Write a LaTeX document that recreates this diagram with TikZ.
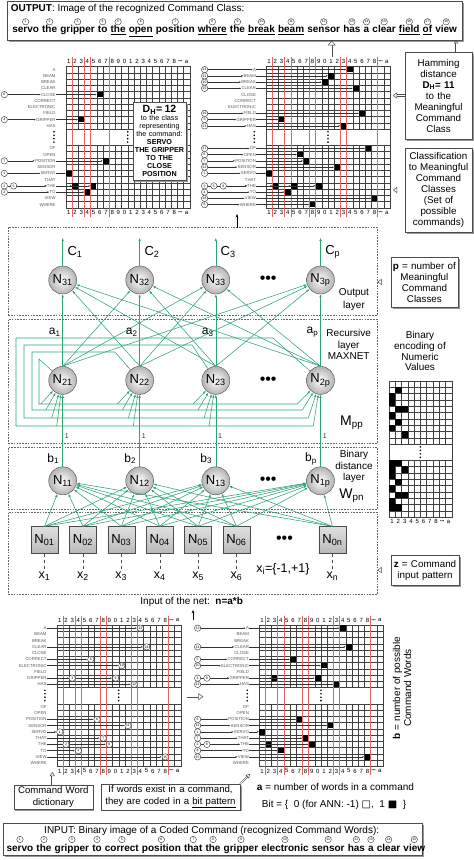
\documentclass[tikz,border=0pt]{standalone}
\usepackage{fontspec}
\setmainfont{Liberation Sans}
\newfontfamily\symfont{DejaVu Sans}
\usepackage{tikz}
\usetikzlibrary{positioning,arrows.meta,shadows,calc}
\definecolor{netgreen}{RGB}{45,165,115}
\definecolor{gridred}{RGB}{228,100,100}
\tikzset{neuron node/.style={circle,draw=black!70,shading=radial,inner color=white,outer color=gray!60,minimum size=28pt,inner sep=0pt,font=\fontsize{13}{13}\selectfont},
  input node/.style={rectangle,draw=black!70,top color=gray!25,bottom color=gray!55,minimum size=27pt,inner sep=0pt,font=\fontsize{13}{13}\selectfont},
  link/.style={netgreen,line width=0.55pt,-{Latex[length=3.2pt,width=2.4pt]}},
  loop line/.style={netgreen,line width=0.55pt},
  layer box/.style={draw=black!60,dash pattern=on 1.6pt off 1.2pt,line width=0.5pt,inner sep=0pt,anchor=north west},
  layer text/.style={align=center,font=\fontsize{10}{11.5}\selectfont},
  var label/.style={inner sep=0pt,font=\fontsize{12}{12}\selectfont},
  info box/.style={draw=black!70,fill=white,align=center,inner sep=1.5pt,font=\fontsize{9.8}{11}\selectfont,
    drop shadow={shadow xshift=1.6pt,shadow yshift=-1.6pt,fill=black!40,opacity=1}},
  hollow arrow/.style={draw=black!70,double=white,double distance=1.3pt,line width=0.5pt,-{Triangle[open,length=4pt,width=6pt]}},
  grid line/.style={black!75,line width=0.35pt},
  red line/.style={gridred,line width=0.6pt},
  row label/.style={anchor=east,inner sep=0pt,text=black!65,font=\fontsize{4.3}{5}\selectfont},
  col label/.style={inner sep=0pt,font=\fontsize{6}{6}\selectfont},
  bit cell/.style={fill=black,minimum size=5.6pt,inner sep=0pt},
  ref circle/.style={circle,draw=black!80,fill=white,minimum size=6.4pt,inner sep=0pt,font=\fontsize{3.4}{3.4}\selectfont},
  word line/.style={black!80,line width=0.4pt,-{Latex[length=2pt,width=1.6pt]}},
  sentence word/.style={anchor=base west,inner sep=0pt,font=\bfseries},
  in grid/.style 2 args={shift={(#1,#2)},x=6.2pt,y=-6.25pt},
}
\newcommand{\hdotsmall}{{\fontsize{4}{4}\selectfont •••}}
% word grid: name, x0, y0, red columns
\newcommand{\wordgrid}[4]{%
  \begin{scope}[in grid={#2}{#3}]
    \foreach \i in {0,...,20} {
      \draw[grid line] (\i,0) -- (\i,10);
      \draw[grid line] (\i,12.6) -- (\i,22.6);
    }
    \foreach \j in {0,...,10} {
      \draw[grid line] (0,\j) -- (20,\j);
      \draw[grid line] (0,\j+12.6) -- (20,\j+12.6);
    }
    \draw[grid line] (0,0) rectangle (20,22.6);
    \foreach \k in {#4} \draw[red line] (\k,-1.5) -- (\k,24);
    \foreach \t [count=\c] in {1,2,3,4,5,6,7,8,9,0,1,2,3,4,5,6,7,8,\hdotsmall,a} {
      \node[col label] at (\c-0.5,-0.75) {\t};
      \node[col label] at (\c-0.5,23.35) {\t};
    }
    \foreach \w [count=\r] in {A,BEAM,BREAK,CLEAR,CLOSE,CORRECT,ELECTRONIC,FIELD,GRIPPER,HAS}
      \node[row label] (#1\r) at (-1.6,\r-0.5) {\w};
    \foreach \w [count=\r from 11] in {OF,OPEN,POSITION,SENSOR,SERVO,THAT,THE,TO,VIEW,WHERE}
      \node[row label] (#1\r) at (-1.6,\r+2.1) {\w};
    \foreach \d in {0,...,3} {
      \fill (-1.9,10.45+0.55*\d) circle (0.9pt);
      \fill (10,10.45+0.55*\d) circle (0.9pt);
    }
  \end{scope}}
% grid, row, col
\newcommand{\bitmark}[3]{%
  \node[bit cell] (#1-#2-#3) at (#3-0.5,{#2-0.5+2.6*(#2>10)}) {};
  \draw[word line] (#1#2.east) -- (#1-#2-#3.west);}
% grid, row, col, number
\newcommand{\circmark}[4]{%
  \node[ref circle] (#1-#2-#3) at (#3-0.5,{#2-0.5+2.6*(#2>10)}) {#4};
  \draw[word line] (#1#2.east) -- (#1-#2-#3.west);}
% grid, row, list macro
\newcommand{\wordref}[3]{%
  \foreach \n [count=\k] in #3 {
    \node[ref circle] (#1n#2-\k) at ({-9.9+1.5*(\k-1)},{#2-0.5+2.6*(#2>10)}) {\n};
    \draw[word line] (#1n#2-\k) -- (#1#2.west);
  }}
% prefix, x, baseline, circle offset, words
\newcommand{\wordchain}[5]{%
  \node[inner sep=0pt,anchor=base west] (#10) at (#2-2.78,#3) {};
  \foreach \w [count=\i, remember=\i as \j (initially 0)] in {#5} {
    \node[sentence word] (#1\i) at ([xshift=2.78pt]#1\j.base east) {\w};
    \node[ref circle] at ([yshift=#4]#1\i.base) {\i};
  }}

\begin{document}
\begin{tikzpicture}[x=1pt,y=-1pt]
\useasboundingbox (0,0) rectangle (474,860);

%% output of the recognised class
\node[info box,minimum width=454.4pt,minimum height=39pt,anchor=north west] (outbox) at (7.3,1) {};
\node[anchor=base west,inner sep=0pt] (outtitle) at (10.7,11.9) {\textbf{OUTPUT}: Image of the recognized Command Class:};
\wordchain{o}{10.7}{32.6}{10.8pt}{servo,the,gripper,to,\underline{the},\underline{open},position,\underline{where},the,\underline{break},\underline{beam},sensor,has,a,clear,\underline{field},\underline{of},view}

%% top grids
\wordgrid{tl}{65.7}{66.5}{1,3,4,7}
\begin{scope}[in grid={65.7}{66.5}]
  \foreach \r/\c in {5/6,9/3,13/7,15/1,17/2,17/5,18/4} {\bitmark{tl}{\r}{\c}}
  \foreach \r/\ns in {5/6,9/3,13/7,15/1,17/{2,5},18/4} {\wordref{tl}{\r}{\ns}}
\end{scope}
\node[info box,font=\fontsize{7.2}{7.9}\selectfont,text width=50pt,minimum height=78pt] (dhbox) at (159.5,140.9)
  {{\fontsize{10.5}{12}\selectfont\textbf{D\textsubscript{H}= 12}}\\to the class\\representing\\the command:\\\textbf{SERVO}\\\textbf{THE GRIPPER}\\\textbf{TO THE}\\\textbf{CLOSE}\\\textbf{POSITION}};

\wordgrid{tr}{266}{66.5}{1,3,4,7,8,12,13,18}
\begin{scope}[in grid={266}{66.5}]
  \foreach \r/\c in {1/14,2/11,3/10,4/15,8/16,9/3,10/13,11/17,12/6,13/7,14/12,15/1,17/2,17/5,17/9,18/4,19/18,20/8} {\bitmark{tr}{\r}{\c}}
  \foreach \r/\ns in {1/14,2/11,3/10,4/15,8/16,9/3,10/13,11/17,12/6,13/7,14/12,15/1,17/{2,5,9},18/4,19/18,20/8} {\wordref{tr}{\r}{\ns}}
\end{scope}

\node[info box,text width=64pt,minimum height=87pt] (hambox) at (438.5,95.5)
  {Hamming\\distance\\\textbf{D\textsubscript{H}= 11}\\to the\\Meaningful\\Command\\Class};
\node[info box,text width=64pt,minimum height=84pt] (classbox) at (438.5,190)
  {Classification\\to Meaningful\\Command\\Classes\\(Set of\\possible\\commands)};
\coordinate (hamtip) at (393,95.5);
\coordinate (classtip) at (393,190);
\coordinate (trtop) at (331.7,57);
\draw[hollow arrow] (hambox.west) -- (hamtip);
\draw[hollow arrow] (classbox.west) -- (classtip);
\draw[hollow arrow,-{Triangle[open,length=5pt,width=8pt]}] (trtop) -- (trtop |- outbox.south);
\draw[hollow arrow,double distance=0.8pt,-{Triangle[open,length=3pt,width=4.5pt]}] ([xshift=17.5pt]hambox.north) -- ([xshift=17.5pt]hambox.north |- outbox.south);

%% layers of the net
\node[layer box,minimum width=369pt,minimum height=88pt] (outlayer) at (8,227) {};
\node[layer box,minimum width=369pt,minimum height=124pt] (reclayer) at (8,319) {};
\node[layer box,minimum width=369pt,minimum height=62pt] (distlayer) at (8,447) {};
\node[layer box,minimum width=369pt,minimum height=82pt] (inlayer) at (8,512) {};

\node[neuron node] (n31) at (62.7,280) {N\textsubscript{31}};
\node[neuron node] (n32) [right=48.6pt of n31] {N\textsubscript{32}};
\node[neuron node] (n33) [right=47.7pt of n32] {N\textsubscript{33}};
\node[neuron node] (n3p) [right=76.3pt of n33] {N\textsubscript{3p}};
\node[neuron node] (n21) [below=72pt of n31] {N\textsubscript{21}};
\node[neuron node] (n22) [below=72pt of n32] {N\textsubscript{22}};
\node[neuron node] (n23) [below=72pt of n33] {N\textsubscript{23}};
\node[neuron node] (n2p) [below=72pt of n3p] {N\textsubscript{2p}};
\node[neuron node] (n11) [below=72pt of n21] {N\textsubscript{11}};
\node[neuron node] (n12) [below=72pt of n22] {N\textsubscript{12}};
\node[neuron node] (n13) [below=72pt of n23] {N\textsubscript{13}};
\node[neuron node] (n1p) [below=72pt of n2p] {N\textsubscript{1p}};
\node[input node] (n01) at (44.5,540) {N\textsubscript{01}};
\node[input node] (n02) [right=11pt of n01] {N\textsubscript{02}};
\node[input node] (n03) [right=11pt of n02] {N\textsubscript{03}};
\node[input node] (n04) [right=11pt of n03] {N\textsubscript{04}};
\node[input node] (n05) [right=11pt of n04] {N\textsubscript{05}};
\node[input node] (n06) [right=11pt of n05] {N\textsubscript{06}};
\node[input node] (n0n) [right=68.5pt of n06] {N\textsubscript{0n}};
\foreach \l in {3,2,1}
  \node[font=\fontsize{16}{16}\selectfont] at ($(n\l3)!0.5!(n\l p)$) {•••};
\node[font=\fontsize{16}{16}\selectfont] at ($(n06)!0.5!(n0n)$) {•••};

\foreach \i/\t in {01/1,02/2,03/3,04/4,05/5,06/6,0n/n} {
  \node[var label,font=\fontsize{12.5}{12.5}\selectfont] (x\t) [below=18pt of n\i] {x\textsubscript{\t}};
  \draw[black!70,dashed] (n\i) -- (x\t);
}
\node[var label,font=\fontsize{12.5}{12.5}\selectfont] (xrange) at (283,569) {x\textsubscript{i}=\{-1,+1\}};

% input to distance layer
\foreach \i in {01,02,03,04,05,06,0n}
  \foreach \j in {11,12,13,1p}
    \draw[link] (n\i.north) -- (n\j);
% distance layer to MAXNET
\foreach \j in {1,2,3,p}
  \draw[link] (n1\j) -- node[pos=0.43,right=2pt,inner sep=0pt,text=black!80,font=\fontsize{7}{7}\selectfont] {1} (n2\j);
% MAXNET to output layer
\foreach \i in {1,2,3,p}
  \foreach \j in {1,2,3,p}
    \draw[link] (n2\i.north) -- (n3\j);
% recursive loops of the MAXNET
\foreach \s/\xe/\ye/\xl/\yb/\off in {21/39/359/39/404/-22,22/115/352/32/410/-17,23/192/345/24/418/-11,2p/273/338/16/426/-6} {
  \draw[loop line] (n\s) -- (\xe,\ye) -- (\xl,\ye) -- (\xl,\yb) -- (319.3+\off,\yb);
  \foreach \j/\x in {21/62.7,22/139.3,23/215,2p/319.3}
    \draw[link] (\x+\off,\yb) -- (n\j);
}
% outputs
\foreach \j in {1,2,3,p} {
  \coordinate (c\j) at ([yshift=28pt]n3\j.north);
  \draw[link] (n3\j) -- (c\j);
  \node[var label,font=\fontsize{13}{13}\selectfont] at ([xshift=12.3pt,yshift=14pt]n3\j.north) {C\textsubscript{\j}};
  \node[var label] at ([xshift=-8pt]$(n2\j.north)!0.47!(n3\j.south)$) {a\textsubscript{\j}};
  \node[var label] at ([xshift=-9.5pt,yshift=8pt]n1\j.north) {b\textsubscript{\j}};
}

\node[layer text,font=\fontsize{10}{13}\selectfont] at (354,299.5) {Output\\layer};
\node[layer text] at (348.7,344.5) {Recursive\\layer\\MAXNET};
\node[layer text] at (354,466.7) {Binary\\distance\\layer};
\node[var label,font=\fontsize{14}{14}\selectfont] at (351.7,423) {M\textsubscript{pp}};
\node[var label,font=\fontsize{14}{14}\selectfont] at (351.7,496) {W\textsubscript{pn}};
\coordinate (outup) at (237,228);
\coordinate (outupend) at (237,214);
\draw[-{Stealth[length=3.5pt,width=2.8pt]},line width=0.6pt] (outup) -- (outupend);

%% right side
\node[info box,text width=64pt,minimum height=50pt] (pbox) at (424.4,282) {\textbf{p} = number of\\Meaningful\\Command\\Classes};
\draw[hollow arrow] (pbox.west) -- (outlayer.east |- pbox.west);
\node[info box,text width=65pt,minimum height=30pt] (zbox) at (425,570) {\textbf{z} = Command\\input pattern};
\draw[hollow arrow] (zbox.west) -- (inlayer.east |- zbox.west);
\node[layer text,font=\fontsize{10}{10.7}\selectfont] at (420,351.3) {Binary\\encoding of\\Numeric\\Values};
\begin{scope}[shift={(389,380.7)},x=6.27pt,y=-6.33pt]
  \foreach \i in {0,...,10} {
    \draw[grid line] (\i,0) -- (\i,10);
    \draw[grid line] (\i,12.54) -- (\i,21.54);
  }
  \foreach \j in {0,...,10} \draw[grid line] (0,\j) -- (10,\j);
  \foreach \j in {0,...,9} \draw[grid line] (0,\j+12.54) -- (10,\j+12.54);
  \draw[grid line] (0,0) rectangle (10,21.54);
  \foreach \r/\c in {2/2,3/1,4/1,5/2,5/3,6/1,7/2,8/1,9/3}
    \fill (\c-1,\r-1) rectangle (\c,\r);
  \foreach \r/\c in {1/1,1/2,2/1,2/3,3/1,4/2,5/1,6/2,6/3,7/1,8/1,8/2}
    \fill (\c-1,\r+11.54) rectangle (\c,\r+12.54);
  \foreach \t [count=\c] in {1,2,3,4,5,6,7,8,\hdotsmall,a}
    \node[col label] at (\c-0.5,22.27) {\t};
  \foreach \d in {0,...,3} \fill (5,10.45+0.55*\d) circle (0.9pt);
\end{scope}

%% input side
\node (netin) at (191.7,601.7) {Input of the net:\ \ \textbf{n=a*b}};
\coordinate (netinfoot) at (193,620);
\draw[-{Stealth[length=3.5pt,width=2.8pt]},line width=0.6pt] (netinfoot) -- (netinfoot |- netin.south);

\wordgrid{bl}{56.7}{625}{1,3,4,7,8,12,13,18}
\begin{scope}[in grid={56.7}{625}]
  \foreach \r/\c/\n in {1/14/13,4/15/14,6/6/5,7/11/10,9/10/9,9/3/3,10/13/12,13/7/6,14/12/11,15/1/1,16/8/7,17/9/8,17/2/2,18/4/4,19/18/15} {\circmark{bl}{\r}{\c}{\n}}
\end{scope}

\wordgrid{br}{259}{625}{1,3,4,7,8,12,13,18}
\begin{scope}[in grid={259}{625}]
  \foreach \r/\c in {1/14,4/15,6/6,7/11,9/3,9/10,10/13,13/7,14/12,15/1,16/8,17/2,17/9,18/4,19/18} {\bitmark{br}{\r}{\c}}
  \foreach \r/\ns in {1/13,4/14,6/5,7/10,9/{3,9},10/12,13/6,14/11,15/1,16/7,17/{2,8},18/4,19/15} {\wordref{br}{\r}{\ns}}
\end{scope}
\coordinate (codefrom) at (186.7,696.7);
\coordinate (codeto) at (203.3,696.7);
\draw[hollow arrow,-{Triangle[open,length=5pt,width=7pt]}] (codefrom) -- (codeto);
\node[rotate=90,align=center,font=\fontsize{10}{11}\selectfont] (bnote) at (402,688) {\textbf{b} = number of possible\\Command Words};

\node[info box,font=\fontsize{9.6}{11.6}\selectfont,text width=76pt,minimum height=24.3pt] (dictbox) at (53.3,797) {Command Word\\dictionary};
\node[info box,font=\fontsize{9.6}{11.6}\selectfont,text width=136pt,minimum height=24.3pt] (bitbox) at (170.5,797) {If words exist in a command,\\they are coded in a \underline{bit pattern}};
\coordinate (dicttip) at (52.3,772);
\coordinate (bittip) at (250,774);
\draw[hollow arrow,-{Triangle[open,length=4pt,width=5pt]}] (dictbox.north -| dicttip) -- (dicttip);
\draw[hollow arrow,double distance=0.8pt,-{Triangle[open,length=4pt,width=5pt]}] (bitbox.north east) -- (bittip);
\node[anchor=base west,inner sep=0pt] (anote) at (256.7,790.3) {\textbf{a} = number of words in a command};
\node[anchor=base west,inner sep=0pt] (bitnote) at (261.7,807) {Bit = \{\ \ 0 (for ANN: -1) {\symfont □},\ \ 1 {\symfont ■}\ \ \}};

%% input command
\node[info box,minimum width=418.4pt,minimum height=32.3pt,anchor=north west] (inbox) at (3.3,822.7) {};
\node[anchor=base,inner sep=0pt] (intitle) at (211.7,833.5) {INPUT: Binary image of a Coded Command (recognized Command Words):};
\wordchain{i}{5}{851.5}{12pt}{servo,the,gripper,to,correct,position,that,the,gripper,electronic,sensor,has,a,clear,view}
\end{tikzpicture}
\end{document}
